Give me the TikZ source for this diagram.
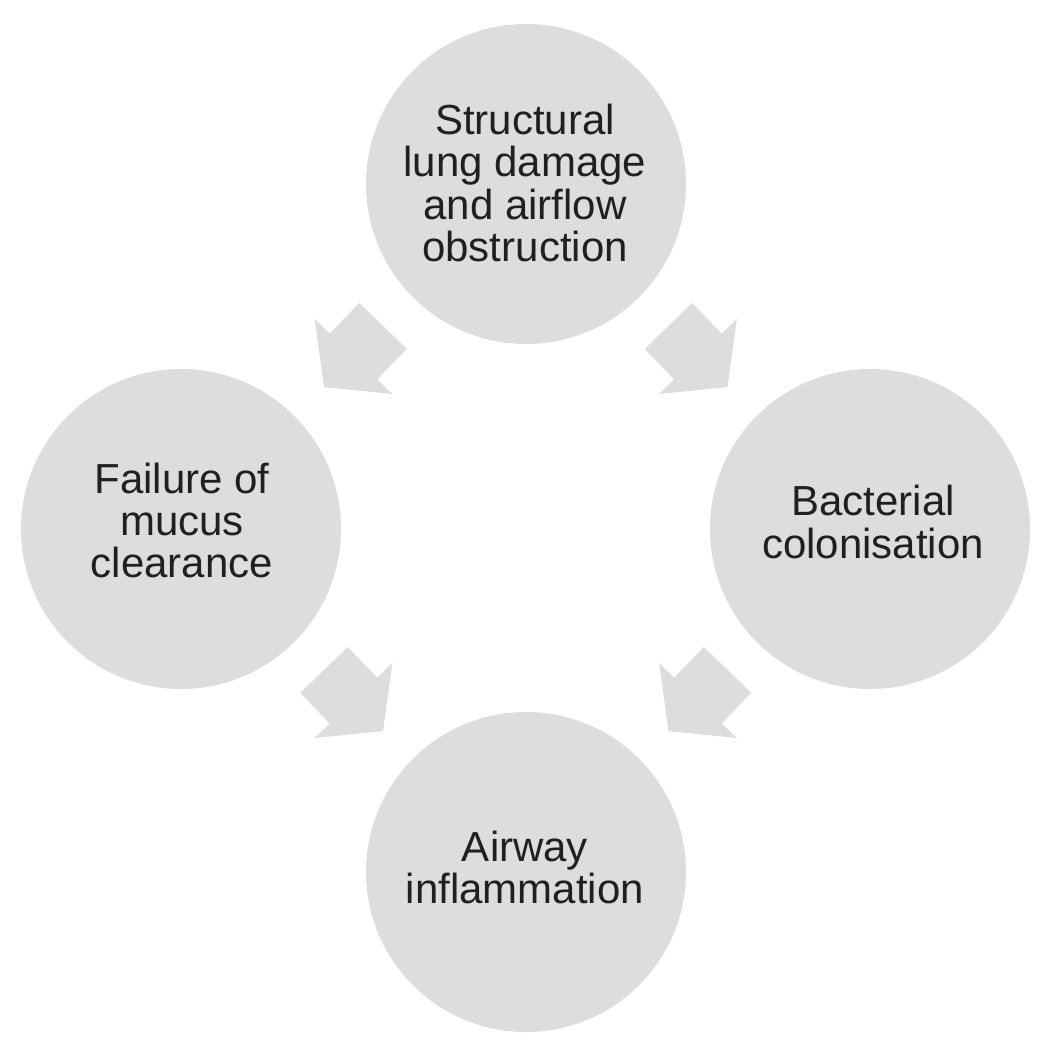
\documentclass[tikz,border=0pt]{standalone}
\usepackage{fontspec}
\setmainfont{Liberation Sans}
\usetikzlibrary{calc}
\definecolor{cfill}{RGB}{220,221,222}
\definecolor{ctext}{RGB}{35,31,32}
\begin{document}
\begin{tikzpicture}[x=1pt,y=-1pt,
  blob/.style={circle,fill=cfill,minimum size=320pt,inner sep=0pt},
  lbl/.style={align=center,text=ctext,font=\fontsize{42}{42.4}\selectfont,inner sep=0pt},
  blockarrow/.pic={\fill[cfill] (-42.5,-33) -- (0,-33) -- (0,-54) -- (42.5,0) -- (0,54) -- (0,33) -- (-42.5,33) -- cycle;}]
\useasboundingbox[fill=white] (0,0) rectangle (1050,1057);
\node[blob] (top) at (526,184) {};
\node[blob] (left) at (181,529) {};
\node[blob] (right) at (870,529) {};
\node[blob] (bottom) at (526,872) {};
\node[lbl] (toptxt) at (525,183) {Structural\\lung damage\\and airflow\\obstruction};
\node[lbl] (lefttxt) at (182,520.5) {Failure of\\mucus\\clearance};
\node[lbl] (righttxt) at (873,522) {Bacterial\\colonisation};
\node[lbl] (bottomtxt) at (525,867.5) {Airway\\inflammation};
\pic[rotate=226] at ($(top)!0.5!(left)$) {blockarrow};
\pic[rotate=-46] at ($(top)!0.5!(right)$) {blockarrow};
\pic[rotate=-46] at ($(left)!0.5!(bottom)$) {blockarrow};
\pic[rotate=226] at ($(right)!0.5!(bottom)$) {blockarrow};
\end{tikzpicture}
\end{document}
